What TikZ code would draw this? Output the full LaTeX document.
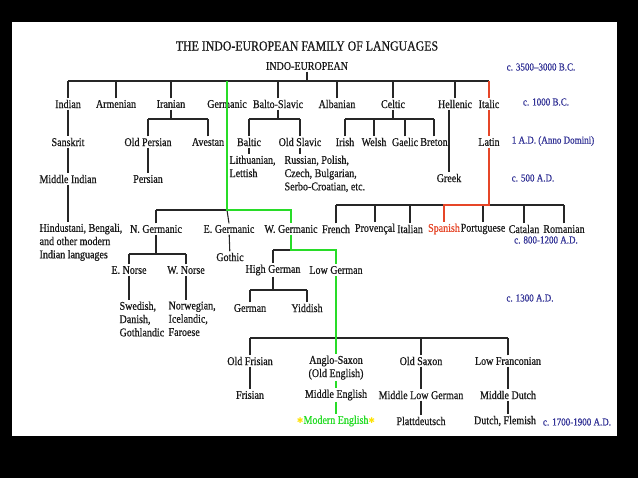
\documentclass[tikz,border=0pt]{standalone}
\usepackage{fontspec}
\setmainfont{Liberation Serif}[FakeStretch=0.85,FakeBold=0.6]
\newfontfamily\symf{DejaVu Sans}
\usepackage{xcolor}
\usetikzlibrary{positioning}
\definecolor{eraBlue}{RGB}{50,50,150}
\definecolor{engGreen}{RGB}{40,220,40}
\definecolor{latRed}{RGB}{230,70,40}
\tikzset{
  lang/.style={font=\fontsize{8.9}{10}\selectfont, inner sep=1pt, text=black!90},
  block/.style={lang, align=left, anchor=north west},
  era/.style={font=\fontsize{8}{9}\selectfont, inner sep=1pt, text=eraBlue},
  link/.style={line width=0.8pt, black!85},
  gline/.style={line width=1pt, engGreen},
  rline/.style={line width=0.9pt, latRed}
}
\begin{document}
\begin{tikzpicture}[x=0.0265cm, y=-0.0265cm]
\useasboundingbox (0,0) rectangle (638,478);
\fill[black] (0,0) rectangle (638,478);
\fill[white] (12,22) rectangle (617,436);

% heading
\node[lang, font=\fontsize{10.5}{11.5}\selectfont] (title) at (307,46) {THE INDO-EUROPEAN FAMILY OF LANGUAGES};
\node[lang] (ie) at (307,66) {INDO-EUROPEAN};
\coordinate (b0) at (307,81);
\coordinate (b1) at (0,119);

% eras
\node[era] (e1) at (541,67) {c. 3500--3000 B.C.};
\node[era] (e2) at (546,102) {c. 1000 B.C.};
\node[era] (e3) at (553,141) {1 A.D. (Anno Domini)};
\node[era] (e4) at (533,178) {c. 500 A.D.};
\node[era] (e5) at (546,240) {c. 800-1200 A.D.};
\node[era] (e6) at (530,298) {c. 1300 A.D.};
\node[era] (e7) at (577,422) {c. 1700-1900 A.D.};

% first branches
\node[lang] (ind) at (68,104) {Indian};
\node[lang] (arm) at (116,104) {Armenian};
\node[lang] (ira) at (171,104) {Iranian};
\node[lang] (ger) at (227,104) {Germanic};
\node[lang] (bsl) at (278,104) {Balto-Slavic};
\node[lang] (alb) at (337,104) {Albanian};
\node[lang] (cel) at (393,104) {Celtic};
\node[lang] (hel) at (455,104) {Hellenic};
\node[lang] (itl) at (489,104) {Italic};

\draw[link] (ie) -- (b0);
\draw[link] (ind |- b0) -- (itl |- b0);
\foreach \n in {ind,arm,ira,bsl,alb,cel,hel}
  \draw[link] (\n.north) -- (\n |- b0);

% Indian
\node[lang] (skt) at (68,142) {Sanskrit};
\node[lang] (mid) at (68,179) {Middle Indian};
\node[block] (hin) at (38,222) {Hindustani, Bengali,\\and other modern\\Indian languages};
\draw[link] (ind) -- (skt);
\draw[link] (skt) -- (mid);
\draw[link] (mid.south) -- (mid.south |- hin.north);

% Iranian
\node[lang] (opr) at (148,142) {Old Persian};
\node[lang] (ave) at (208,142) {Avestan};
\node[lang] (per) at (148,179) {Persian};
\draw[link] (ira.south) -- (ira |- b1);
\draw[link] (opr |- b1) -- (ave |- b1);
\draw[link] (opr.north) -- (opr |- b1);
\draw[link] (ave.north) -- (ave |- b1);
\draw[link] (opr) -- (per);

% Balto-Slavic
\node[lang] (bal) at (249,142) {Baltic};
\node[lang] (osl) at (300,142) {Old Slavic};
\node[block] (lit) at (228,154) {Lithuanian,\\Lettish};
\node[block] (rus) at (283,154) {Russian, Polish,\\Czech, Bulgarian,\\Serbo-Croatian, etc.};
\draw[link] (bsl.south) -- (bsl |- b1);
\draw[link] (bal |- b1) -- (osl |- b1);
\draw[link] (bal.north) -- (bal |- b1);
\draw[link] (osl.north) -- (osl |- b1);
\draw[link] (bal.south) -- (bal.south |- lit.north);
\draw[link] (osl.south) -- (osl.south |- rus.north);

% Celtic and Hellenic
\node[lang] (iri) at (345,142) {Irish};
\node[lang] (wel) at (374,142) {Welsh};
\node[lang] (gae) at (405,142) {Gaelic};
\node[lang] (bre) at (434,142) {Breton};
\node[lang] (grk) at (449,178) {Greek};
\draw[link] (cel.south) -- (cel |- b1);
\draw[link] (iri |- b1) -- (bre |- b1);
\foreach \n in {iri,wel,gae,bre}
  \draw[link] (\n.north) -- (\n |- b1);
\draw[link] (hel.south -| grk) -- (grk);

% Italic
\node[lang] (lat) at (489,142) {Latin};
\coordinate (b4) at (0,205);
\node[lang] (fre) at (336,229) {French};
\node[lang] (pro) at (375,229) {Provençal};
\node[lang] (itn) at (410,229) {Italian};
\node[lang, text=latRed] (spa) at (444,229) {Spanish};
\node[lang] (por) at (483,229) {Portuguese};
\node[lang] (cat) at (524,229) {Catalan};
\node[lang] (rom) at (564,229) {Romanian};
\draw[link] (fre |- b4) -- (rom |- b4);
\foreach \n in {fre,pro,itn,por,cat,rom}
  \draw[link] (\n.north) -- (\n |- b4);
\draw[rline] (itl |- b0) -- (itl.north);
\draw[rline] (itl) -- (lat);
\draw[rline] (lat.south) -- (lat |- b4) -- (spa |- b4) -- (spa.north);

% Germanic
\coordinate (b3) at (0,210);
\node[lang] (ngr) at (156,229) {N. Germanic};
\node[lang] (egr) at (229,229) {E. Germanic};
\node[lang] (wgr) at (291,229) {W. Germanic};
\draw[link] (ngr |- b3) -- (ger |- b3);
\draw[link] (ngr.north) -- (ngr |- b3);
\draw[link] (egr.north) -- (ger |- b3);
\draw[gline] (ger |- b0) -- (ger |- b3) -- (wgr |- b3) -- (wgr.north);

% North Germanic
\coordinate (b5) at (0,254);
\node[lang] (enr) at (129,270) {E. Norse};
\node[lang] (wnr) at (186,270) {W. Norse};
\node[block] (swe) at (118,300) {Swedish,\\Danish,\\Gothlandic};
\node[block] (nor) at (167,300) {Norwegian,\\Icelandic,\\Faroese};
\draw[link] (ngr.south) -- (ngr |- b5);
\draw[link] (enr |- b5) -- (wnr |- b5);
\draw[link] (enr.north) -- (enr |- b5);
\draw[link] (wnr.north) -- (wnr |- b5);
\draw[link] (enr.south) -- (enr.south |- swe.north);
\draw[link] (wnr.south) -- (wnr.south |- nor.north);

% East Germanic
\node[lang] (got) at (230,257) {Gothic};
\draw[link] (egr) -- (got);

% West Germanic
\coordinate (b6) at (0,250);
\coordinate (b7) at (0,290);
\node[lang] (hgr) at (273,270) {High German};
\node[lang] (lgr) at (336,270) {Low German};
\node[lang] (deu) at (250,308) {German};
\node[lang] (yid) at (307,308) {Yiddish};
\draw[link] (hgr |- b6) -- (wgr |- b6);
\draw[link] (hgr.north) -- (hgr |- b6);
\draw[gline] (wgr.south) -- (wgr |- b6) -- (lgr |- b6) -- (lgr.north);
\draw[link] (hgr.south) -- (hgr |- b7);
\draw[link] (deu |- b7) -- (yid |- b7);
\draw[link] (deu.north) -- (deu |- b7);
\draw[link] (yid.north) -- (yid |- b7);

% Low German
\coordinate (b8) at (0,338);
\node[lang] (ofr) at (250,361) {Old Frisian};
\node[block, align=center, anchor=north] (ang) at (336,354) {Anglo-Saxon\\(Old English)};
\node[lang] (osx) at (421,361) {Old Saxon};
\node[lang] (lfr) at (508,361) {Low Franconian};
\node[lang] (fri) at (250,395) {Frisian};
\node[lang] (mde) at (336,395) {Middle English};
\node[lang] (mlg) at (421,395) {Middle Low German};
\node[lang] (mdu) at (508,395) {Middle Dutch};
\node[lang, text=engGreen] (mod) at (336,421) {\textcolor{yellow!85!orange}{\symf\fontsize{6}{6}\selectfont ✱}Modern English\textcolor{yellow!85!orange}{\symf\fontsize{6}{6}\selectfont ✱}};
\node[lang] (pla) at (421,421) {Plattdeutsch};
\node[lang] (dfl) at (505,421) {Dutch, Flemish};
\draw[link] (ofr |- b8) -- (lfr |- b8);
\foreach \n in {ofr,osx,lfr}
  \draw[link] (\n.north) -- (\n |- b8);
\draw[gline] (lgr.south) -- (lgr |- b8) -- (ang.north);
\draw[gline] (ang) -- (mde);
\draw[gline] (mde) -- (mod);
\draw[link] (ofr) -- (fri);
\draw[link] (osx) -- (mlg);
\draw[link] (mlg) -- (pla);
\draw[link] (lfr) -- (mdu);
\draw[link] (mdu.south) -- (mdu.south |- dfl.north);
\end{tikzpicture}
\end{document}
